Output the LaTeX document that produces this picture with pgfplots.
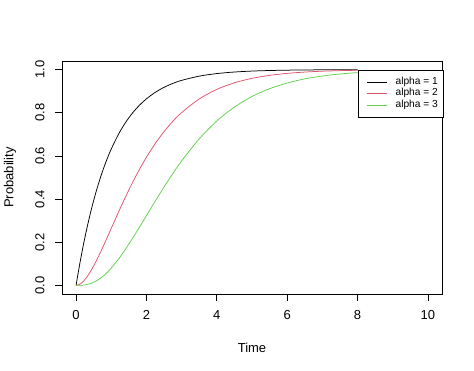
\documentclass[border=0pt]{standalone}
\usepackage{pgfplots}
\pgfplotsset{compat=1.18}
\usepackage{fontspec}
\setmainfont{Liberation Sans}
\definecolor{rred}{HTML}{DF536B}
\definecolor{rgreen}{HTML}{61D04F}
\begin{document}
\begin{tikzpicture}
\path[use as bounding box] (-62pt,-77pt) rectangle (412pt,294pt);
\begin{axis}[
  at={(0,0)}, anchor=south west,
  scale only axis, width=380pt, height=233pt,
  xmin=-0.4, xmax=10.4, ymin=-0.04, ymax=1.04,
  xtick={0,2,4,6,8,10}, ytick={0,0.2,0.4,0.6,0.8,1.0},
  yticklabel style={/pgf/number format/fixed,/pgf/number format/precision=1,/pgf/number format/fixed zerofill, xshift=-7pt, rotate=90, anchor=south},
  xticklabel style={/pgf/number format/fixed, yshift=-6pt},
  /pgf/number format/assume math mode=true,
  tick align=outside, major tick length=7pt,
  tick style={black, line width=0.75pt},
  axis line style={line width=0.75pt},
  xtick pos=bottom, ytick pos=left,
  tick label style={font=\fontsize{13}{15}\selectfont},
  label style={font=\fontsize{13}{15}\selectfont},
  xlabel={Time}, ylabel={Probability},
  xlabel style={at={(axis description cs:0.5,-0.232)}, anchor=center},
  ylabel style={at={(axis description cs:-0.137,0.5)}, anchor=center},
  legend style={at={(axis cs:8,1)}, anchor=north west, draw=black, line width=0.75pt,
    font=\fontsize{10.2}{12}\selectfont, row sep=0pt, column sep=8.3pt,
    inner xsep=5.3pt, inner ysep=6.7pt,
    nodes={inner sep=0pt, text height=8pt, text depth=3.3pt}},
  legend cell align=left,
  legend image code/.code={\path (0pt,0pt); \draw[#1, line width=0.6pt] (3.4pt,0pt) -- (23.4pt,0pt);},
]
\addplot[black, line width=0.75pt, smooth] coordinates {
(0,0) (0.1,0.0952) (0.2,0.1813) (0.3,0.2592) (0.4,0.3297) (0.5,0.3935) (0.6,0.4512) (0.7,0.5034) (0.8,0.5507) (0.9,0.5934) (1.0,0.6321) (1.2,0.6988) (1.4,0.7534) (1.6,0.7981) (1.8,0.8347) (2.0,0.8647) (2.25,0.8946) (2.5,0.9179) (2.75,0.9361) (3.0,0.9502) (3.5,0.9698) (4.0,0.9817) (4.5,0.9889) (5.0,0.9933) (5.5,0.9959) (6.0,0.9975) (6.5,0.9985) (7.0,0.9991) (7.5,0.9994) (8.0,0.9997)};
\addlegendentry{alpha = 1}
\addplot[rred, line width=0.75pt, smooth] coordinates {
(0,0) (0.1,0.0047) (0.2,0.0175) (0.3,0.0369) (0.4,0.0616) (0.5,0.0902) (0.6,0.1219) (0.7,0.1558) (0.8,0.1912) (0.9,0.2275) (1.0,0.2642) (1.2,0.3374) (1.4,0.4082) (1.6,0.4751) (1.8,0.5372) (2.0,0.5940) (2.25,0.6575) (2.5,0.7127) (2.75,0.7603) (3.0,0.8009) (3.5,0.8641) (4.0,0.9084) (4.5,0.9389) (5.0,0.9596) (5.5,0.9734) (6.0,0.9826) (6.5,0.9887) (7.0,0.9927) (7.5,0.9953) (8.0,0.9970)};
\addlegendentry{alpha = 2}
\addplot[rgreen, line width=0.75pt, smooth] coordinates {
(0,0) (0.1,0.0002) (0.2,0.0011) (0.3,0.0036) (0.4,0.0079) (0.5,0.0144) (0.6,0.0231) (0.7,0.0341) (0.8,0.0474) (0.9,0.0629) (1.0,0.0803) (1.2,0.1205) (1.4,0.1665) (1.6,0.2166) (1.8,0.2694) (2.0,0.3233) (2.25,0.3907) (2.5,0.4562) (2.75,0.5185) (3.0,0.5768) (3.5,0.6792) (4.0,0.7619) (4.5,0.8264) (5.0,0.8753) (5.5,0.9116) (6.0,0.9380) (6.5,0.9570) (7.0,0.9704) (7.5,0.9797) (8.0,0.9863)};
\addlegendentry{alpha = 3}
\end{axis}
\end{tikzpicture}
\end{document}
